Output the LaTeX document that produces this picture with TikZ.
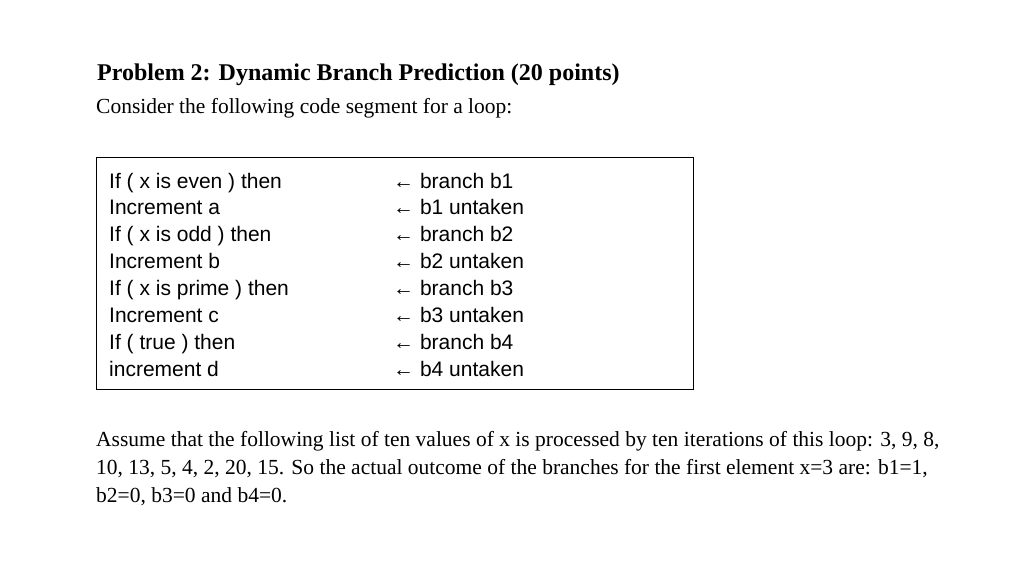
\documentclass[tikz,border=0pt]{standalone}
\usepackage{fontspec}
\setmainfont{Liberation Serif}
\newfontfamily\codefont{Liberation Sans}
\begin{document}
\begin{tikzpicture}[x=1pt,y=-1pt,
  title/.style={anchor=base west,inner sep=0,font=\fontsize{24}{28}\selectfont\bfseries},
  body/.style={anchor=base west,inner sep=0,font=\fontsize{21.5}{26}\selectfont},
  code/.style={anchor=base west,inner sep=0,font=\codefont\fontsize{21}{25}\selectfont}]
\useasboundingbox (0,0) rectangle (1024,574);
\node[title] (t) at (97,80) {Problem 2: Dynamic Branch Prediction (20 points)};
\node[body] (c) at (96,113) {Consider the following code segment for a loop:};
\draw[line width=0.9pt] (96,157) rectangle (693,389);
\foreach \i/\l/\r in {0/If ( x is even ) then/branch b1,1/Increment a/b1 untaken,2/If ( x is odd ) then/branch b2,3/Increment b/b2 untaken,4/If ( x is prime ) then/branch b3,5/Increment c/b3 untaken,6/If ( true ) then/branch b4,7/increment d/b4 untaken}{
  \node[code] (l\i) at (109,{188+26.9*\i}) {\l};
  \node[code] (r\i) at (393,{188+26.9*\i}) {← \r};
}
\node[body] (p1) at (96,446) {Assume that the following list of ten values of x is processed by ten iterations of this loop: 3, 9, 8,};
\node[body] (p2) at (96,474) {10, 13, 5, 4, 2, 20, 15. So the actual outcome of the branches for the first element x=3 are: b1=1,};
\node[body] (p3) at (96,502) {b2=0, b3=0 and b4=0.};
\end{tikzpicture}
\end{document}
